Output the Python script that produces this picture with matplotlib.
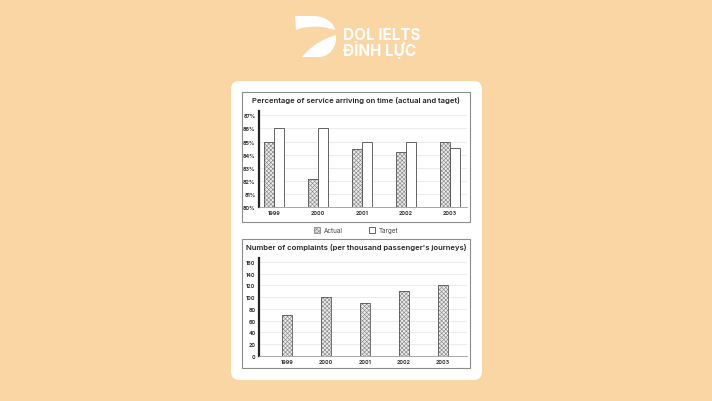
import matplotlib
matplotlib.use("Agg")
import matplotlib.pyplot as plt
from matplotlib.patches import FancyBboxPatch, Rectangle, PathPatch
from matplotlib.path import Path

plt.rcParams['font.family'] = ['Inter', 'DejaVu Sans']
plt.rcParams['hatch.linewidth'] = 0.45

years = ["1999", "2000", "2001", "2002", "2003"]
actual = [85.0, 82.1, 84.4, 84.2, 85.0]
target = [86.0, 86.0, 85.0, 85.0, 84.5]
complaints = [70, 100, 90, 110, 120]

pct_ticks = [80, 81, 82, 83, 84, 85, 86, 87]
pct_labels = [str(t) + "%" for t in pct_ticks]
num_ticks = [0, 20, 40, 60, 80, 100, 120, 140, 160]

W, H = 712, 402
BG = "#FAD6A5"
HATCH_FACE = "#ececec"
HATCH_COL = "#8a8a8a"
EDGE = "#4a4a4a"


def box(x0, y0, x1, y1):
    # pixel box (top-left origin) -> figure fraction rect
    return [x0 / W, 1 - y1 / H, (x1 - x0) / W, (y1 - y0) / H]


def hatched_bars(ax, x, h, w, bottom=0, label=None):
    # hatch layer in light grey, then a dark outline on top
    ax.bar(x, h, w, bottom=bottom, facecolor=HATCH_FACE, edgecolor=HATCH_COL,
           hatch="xxxxxxxx", lw=0)
    return ax.bar(x, h, w, bottom=bottom, facecolor="none", edgecolor=EDGE,
                  lw=0.55, label=label)


fig = plt.figure(figsize=(W / 100, H / 100), dpi=100, facecolor=BG)

# white card
fig.patches.append(FancyBboxPatch((231 / W, 1 - 381 / H), 251 / W, 299 / H,
                                  boxstyle="round,pad=0,rounding_size=0.012",
                                  transform=fig.transFigure, facecolor="white",
                                  edgecolor="none", mutation_aspect=W / H, zorder=-2))
# chart frames
for y0, y1 in [(93, 223), (240, 369)]:
    r = box(242, y0, 470, y1)
    fig.patches.append(Rectangle((r[0], r[1]), r[2], r[3], transform=fig.transFigure,
                                 facecolor="none", edgecolor="#8c8c8c", lw=0.8, zorder=-1))

# logo
def logo_path(pts_codes):
    verts = [(x / W, 1 - y / H) for x, y in pts_codes[0]]
    return Path(verts, pts_codes[1])

C4, L, M, Z = Path.CURVE4, Path.LINETO, Path.MOVETO, Path.CLOSEPOLY
upper = ([(295, 17), (313, 17), (325, 17), (333, 23), (335, 31), (320, 26), (305, 27), (296, 31), (295, 17)],
         [M, L, C4, C4, C4, C4, C4, C4, Z])
lower = ([(302, 58), (310, 48), (322, 40), (336, 36), (337, 48), (330, 57), (320, 58), (302, 58)],
         [M, C4, C4, C4, C4, C4, C4, Z])
for p in (upper, lower):
    fig.patches.append(PathPatch(logo_path(p), transform=fig.transFigure,
                                 facecolor="white", edgecolor="none"))
fig.text(343 / W, 1 - 35 / H, "DOL IELTS", color="white", fontsize=11,
         fontweight="bold", va="center", ha="left")
fig.text(343 / W, 1 - 50 / H, "ĐÌNH LỰC", color="white", fontsize=11,
         fontweight="bold", va="center", ha="left")

# titles
fig.text(356 / W, 1 - 101 / H, "Percentage of service arriving on time (actual and taget)",
         ha="center", va="center", fontsize=5.5, fontweight="semibold", color="#222222")
fig.text(356 / W, 1 - 248 / H, "Number of complaints (per thousand passenger's journeys)",
         ha="center", va="center", fontsize=5.5, fontweight="semibold", color="#222222")


def style(ax):
    ax.set_facecolor("white")
    for s in ["top", "right"]:
        ax.spines[s].set_visible(False)
    ax.spines["left"].set_color("#222222")
    ax.spines["left"].set_linewidth(1.6)
    ax.spines["bottom"].set_color("#9a9a9a")
    ax.spines["bottom"].set_linewidth(0.6)
    ax.tick_params(length=0, labelsize=3.9, labelcolor="#333333", pad=2.5)
    for lab in ax.get_xticklabels() + ax.get_yticklabels():
        lab.set_fontweight("bold")
    ax.grid(axis="y", color="#e4e4e4", lw=0.5)
    ax.set_axisbelow(True)


# top chart
ax1 = fig.add_axes(box(259, 112, 467, 208))
xs = list(range(len(years)))
bw = 0.225
b1 = hatched_bars(ax1, [x - 0.118 for x in xs], [a - 80 for a in actual], bw,
                  bottom=80, label="Actual")
b2 = ax1.bar([x + 0.118 for x in xs], [t - 80 for t in target], bw, bottom=80,
             facecolor="white", edgecolor=EDGE, lw=0.6, label="Target")
ax1.set_ylim(80, 87.33)
ax1.set_xlim(-0.34, 4.39)
ax1.set_yticks(pct_ticks)
ax1.set_yticklabels(pct_labels)
ax1.set_xticks(xs)
ax1.set_xticklabels(years)
style(ax1)

leg_actual = Rectangle((0, 0), 1, 1, facecolor=HATCH_FACE, edgecolor=HATCH_COL,
                       hatch="xxxxxxxx", lw=0.6)
fig.legend(handles=[leg_actual, b2], labels=["Actual", "Target"], loc="center",
           bbox_to_anchor=(356 / W, 1 - 231 / H), ncol=2, frameon=False,
           fontsize=4.5, handlelength=1.0, handleheight=1.0, columnspacing=4.2,
           handletextpad=0.6, labelcolor="#444444")

# bottom chart
ax2 = fig.add_axes(box(259, 259, 467, 357))
hatched_bars(ax2, xs, complaints, 0.26)
ax2.set_ylim(0, 166.8)
ax2.set_xlim(-0.72, 4.62)
ax2.set_yticks(num_ticks)
ax2.set_xticks(xs)
ax2.set_xticklabels(years)
style(ax2)

fig.savefig("out.png", dpi=100, facecolor=BG)
